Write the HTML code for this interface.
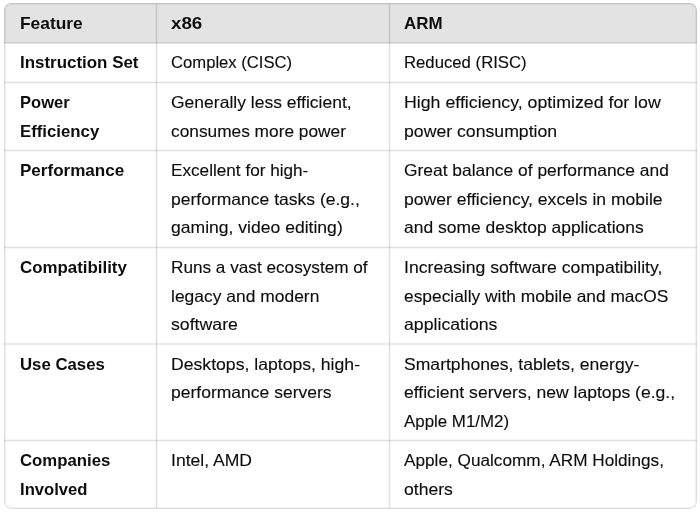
<!DOCTYPE html>
<html><head><meta charset="utf-8">
<style>
html,body{margin:0;padding:0;background:#fff;width:700px;height:512px;overflow:hidden}
body{position:relative;font-family:"Liberation Sans",sans-serif;font-size:16.5px;color:#0d0d0d}
#t{will-change:transform;position:absolute;left:4px;top:3px;width:693px;height:506px;border-radius:7px;overflow:hidden;background:#fff}
.hb{position:absolute;left:0;top:0;width:693px;height:39px;background:#e3e3e3}
.h{position:absolute;left:0;width:693px;height:1px;background:rgba(0,0,0,0.12);box-shadow:0 -1px 0 rgba(0,0,0,0.03),0 1px 0 rgba(0,0,0,0.03)}
.v{position:absolute;top:1px;width:1px;height:504px;background:rgba(0,0,0,0.12);box-shadow:-1px 0 0 rgba(0,0,0,0.03),1px 0 0 rgba(0,0,0,0.03)}
.ob{position:absolute;left:0;top:0;width:691px;height:504px;border:1px solid rgba(0,0,0,0.13);border-radius:7px;box-shadow:inset 0 0 0 1px rgba(0,0,0,0.05)}
.l{position:absolute;line-height:28.5px;white-space:nowrap;transform-origin:0 0;-webkit-text-stroke:0.12px #0d0d0d}
.b{font-weight:bold;-webkit-text-stroke:0}
</style></head><body>
<div id="t">
<div class="hb"></div>
<div class="h" style="top:39px;background:#cdcdcd;box-shadow:0 1px 0 rgba(0,0,0,0.09)"></div>
<div class="h" style="top:79px"></div>
<div class="h" style="top:147px"></div>
<div class="h" style="top:244px"></div>
<div class="h" style="top:340px;height:2px;background:rgba(0,0,0,0.075);box-shadow:0 -1px 0 rgba(0,0,0,0.02),0 1px 0 rgba(0,0,0,0.02)"></div>
<div class="h" style="top:437px"></div>
<div class="v" style="left:152px"></div>
<div class="v" style="left:385px"></div>
<div class="ob"></div>

<div class="l b" style="left:15.56px;top:6.00px;letter-spacing:0.000px;transform:scaleX(1.0531)">Feature</div>
<div class="l b" style="left:166.77px;top:6.00px;letter-spacing:0.000px;transform:scaleX(1.1365)">x86</div>
<div class="l b" style="left:399.93px;top:6.00px;letter-spacing:0.000px;transform:scaleX(1.0255)">ARM</div>
<div class="l b" style="left:15.56px;top:45.20px;letter-spacing:0.000px;transform:scaleX(1.0256)">Instruction Set</div>
<div class="l" style="left:166.77px;top:45.20px;letter-spacing:0.000px;transform:scaleX(1.0086)">Complex (CISC)</div>
<div class="l" style="left:399.93px;top:45.20px;letter-spacing:0.000px;transform:scaleX(1.0132)">Reduced (RISC)</div>
<div class="l b" style="left:15.56px;top:85.20px;letter-spacing:0.000px;transform:scaleX(1.0030)">Power</div>
<div class="l b" style="left:15.56px;top:113.70px;letter-spacing:0.000px;transform:scaleX(1.0163)">Efficiency</div>
<div class="l" style="left:166.77px;top:85.20px;letter-spacing:0.000px;transform:scaleX(1.0609)">Generally less efficient,</div>
<div class="l" style="left:166.77px;top:113.70px;letter-spacing:0.000px;transform:scaleX(1.0480)">consumes more power</div>
<div class="l" style="left:399.93px;top:85.20px;letter-spacing:0.000px;transform:scaleX(1.0754)">High efficiency, optimized for low</div>
<div class="l" style="left:399.93px;top:113.70px;letter-spacing:0.000px;transform:scaleX(1.0705)">power consumption</div>
<div class="l b" style="left:15.56px;top:153.20px;letter-spacing:0.000px;transform:scaleX(1.0331)">Performance</div>
<div class="l" style="left:166.77px;top:153.20px;letter-spacing:0.000px;transform:scaleX(1.0399)">Excellent for high-</div>
<div class="l" style="left:166.77px;top:181.70px;letter-spacing:0.000px;transform:scaleX(1.0615)">performance tasks (e.g.,</div>
<div class="l" style="left:166.77px;top:210.20px;letter-spacing:0.000px;transform:scaleX(1.0638)">gaming, video editing)</div>
<div class="l" style="left:399.93px;top:153.20px;letter-spacing:0.000px;transform:scaleX(1.0537)">Great balance of performance and</div>
<div class="l" style="left:399.93px;top:181.70px;letter-spacing:0.000px;transform:scaleX(1.0628)">power efficiency, excels in mobile</div>
<div class="l" style="left:399.93px;top:210.20px;letter-spacing:0.000px;transform:scaleX(1.0578)">and some desktop applications</div>
<div class="l b" style="left:15.56px;top:250.20px;letter-spacing:0.000px;transform:scaleX(1.0226)">Compatibility</div>
<div class="l" style="left:166.77px;top:250.20px;letter-spacing:0.000px;transform:scaleX(1.0409)">Runs a vast ecosystem of</div>
<div class="l" style="left:166.77px;top:278.70px;letter-spacing:0.000px;transform:scaleX(1.0571)">legacy and modern</div>
<div class="l" style="left:166.77px;top:307.20px;letter-spacing:0.000px;transform:scaleX(1.0730)">software</div>
<div class="l" style="left:399.93px;top:250.20px;letter-spacing:0.000px;transform:scaleX(1.0685)">Increasing software compatibility,</div>
<div class="l" style="left:399.93px;top:278.70px;letter-spacing:0.000px;transform:scaleX(1.0517)">especially with mobile and macOS</div>
<div class="l" style="left:399.93px;top:307.20px;letter-spacing:0.000px;transform:scaleX(1.0724)">applications</div>
<div class="l b" style="left:15.56px;top:346.70px;letter-spacing:0.000px;transform:scaleX(1.0164)">Use Cases</div>
<div class="l" style="left:166.77px;top:346.70px;letter-spacing:0.000px;transform:scaleX(1.0677)">Desktops, laptops, high-</div>
<div class="l" style="left:166.77px;top:375.20px;letter-spacing:0.000px;transform:scaleX(1.0615)">performance servers</div>
<div class="l" style="left:399.93px;top:346.70px;letter-spacing:0.000px;transform:scaleX(1.0649)">Smartphones, tablets, energy-</div>
<div class="l" style="left:399.93px;top:375.20px;letter-spacing:0.000px;transform:scaleX(1.0646)">efficient servers, new laptops (e.g.,</div>
<div class="l" style="left:399.93px;top:403.70px;letter-spacing:0.000px;transform:scaleX(1.0231)">Apple M1/M2)</div>
<div class="l b" style="left:15.56px;top:443.20px;letter-spacing:0.000px;transform:scaleX(1.0154)">Companies</div>
<div class="l b" style="left:15.56px;top:471.70px;letter-spacing:0.000px;transform:scaleX(1.0089)">Involved</div>
<div class="l" style="left:166.77px;top:443.20px;letter-spacing:0.000px;transform:scaleX(1.0640)">Intel, AMD</div>
<div class="l" style="left:399.93px;top:443.20px;letter-spacing:0.000px;transform:scaleX(1.0421)">Apple, Qualcomm, ARM Holdings,</div>
<div class="l" style="left:399.93px;top:471.70px;letter-spacing:0.000px;transform:scaleX(1.0665)">others</div>
</div>
</body></html>
